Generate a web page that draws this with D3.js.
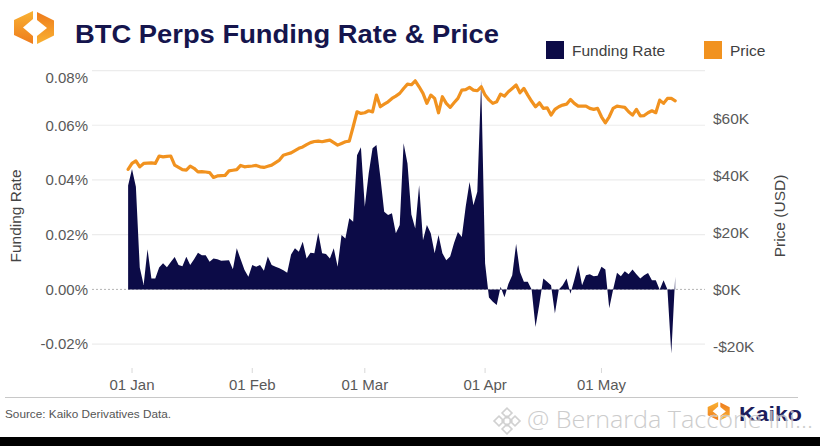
<!DOCTYPE html>
<html><head><meta charset="utf-8">
<script src="https://cdn.jsdelivr.net/npm/d3@7/dist/d3.min.js"></script>
<style>
html,body{margin:0;padding:0;background:#fff;}
svg{display:block;font-family:"Liberation Sans",Arial,Helvetica,sans-serif;}
</style></head>
<body>
<svg id="chart" width="820" height="446"></svg>
<script>
// ---------------- DATA ----------------
const startDate = "2023-12-31";           // first daily observation
const fundingRate = [ // % per 8h, daily from 31 Dec 2023
0.038,0.044,0.0375,0.008,0.0016,0.0147,0.004,0.004,0.0080,0.0096,
0.0081,0.0100,0.0118,0.0089,0.0085,0.0119,0.0089,0.0110,0.0134,0.0125,
0.0125,0.0101,0.0113,0.0110,0.0105,0.0106,0.0107,0.0074,0.0150,0.0110,
0.0071,0.0046,0.0089,0.0083,0.0089,0.0068,0.0120,0.0089,0.0083,0.0077,
0.0070,0.0061,0.0128,0.0150,0.0138,0.0174,0.0113,0.0134,0.0132,0.0207,
0.0132,0.0129,0.0113,0.0150,0.0083,0.0199,0.0186,0.0260,0.0247,0.0490,
0.0520,0.0302,0.0424,0.0516,0.0528,0.0412,0.0284,0.0272,0.0278,0.0205,
0.0235,0.0534,0.0460,0.0274,0.0223,0.0381,0.0180,0.0235,0.0205,0.0132,
0.0199,0.0132,0.0107,0.0120,0.0170,0.0210,0.0192,0.0302,0.0393,0.0308,
0.0357,0.0762,0.0096,-0.0030,-0.0045,-0.0057,0.0010,-0.0029,0.0020,0.0052,
0.0166,0.0064,0.0028,0.0028,0.0000,-0.0137,-0.0052,0.0040,0.0028,0.0015,
-0.0088,0.0000,0.0015,0.0040,-0.0016,0.0034,0.0089,0.0015,0.0052,0.0055,
0.0048,0.0050,0.0083,0.0073,-0.0069,0.0000,0.0061,0.0048,0.0066,0.0055,
0.0073,0.0055,0.0040,0.0052,0.0060,0.0033,0.0033,-0.0001,0.0033,0.0000,
-0.0234,0.0046
];
const price = [ // USD, daily from 31 Dec 2023
42100,44200,45100,43000,44200,44300,44400,44200,46800,46500,
46700,46800,43600,42800,42000,41860,43260,42500,41260,41300,
41200,41000,39300,39800,39900,40000,41600,41800,42000,43500,
43000,43200,43300,43500,43000,42800,43200,43600,44500,45370,
47100,47500,47900,48700,49500,50000,50800,51500,51900,52000,
51800,52100,52390,51500,50630,51200,51800,52040,57060,62330,
61740,62000,62680,62300,68180,64080,65000,65830,67000,67830,
68780,70500,72040,71800,73200,71100,68780,65270,68180,67020,
61970,67600,65270,63860,65500,67020,69940,70100,70880,69940,
69700,71100,68180,66500,65270,65830,68530,67830,69350,70500,
71700,69000,70530,68180,66000,64080,65480,63510,63700,61160,
63160,64080,64670,65000,66670,65270,64320,64300,64320,63510,
63160,63510,60570,58460,60570,63510,64320,64100,63860,62330,
61160,63160,60870,61000,62000,62680,62000,66420,65270,67020,
67000,66180
];
const rateTicks = [-0.02,0,0.02,0.04,0.06,0.08];
const priceTicks = [-20000,0,20000,40000,60000];
const monthTicks = ["2024-01-01","2024-02-01","2024-03-01","2024-04-01","2024-05-01"];
const seriesNames = ["Funding Rate","Price"];

// ---------------- LAYOUT ----------------
const navy = "#0c0b47", orange = "#f1921f";
const svg = d3.select("#chart");
const plotL = 92, plotR = 705, plotT = 70, plotB = 366;

const jan1 = d3.utcParse("%Y-%m-%d")("2024-01-01");
const x = d3.scaleUtc()
  .domain([new Date(+jan1 - (132-plotL)/3.88*864e5), new Date(+jan1 + (plotR-132)/3.88*864e5)])
  .range([plotL, plotR]);
const yL = d3.scaleLinear().domain([-0.028, 0.0802]).range([plotB, plotT]);
const yR = d3.scaleLinear().domain([-(plotB-289.4)/57*20000, (289.4-plotT)/57*20000]).range([plotB, plotT]);

const t0 = d3.utcParse("%Y-%m-%d")(startDate);
const rows = fundingRate.map((v,i)=>({date:d3.utcDay.offset(t0,i), rate:v, price:price[i]}));

const fmt = d3.formatLocale({decimal:".",thousands:",",grouping:[3],currency:["$",""],minus:"-"});

// gridlines
svg.append("g").selectAll("line").data(rateTicks.filter(v=>v!==0)).join("line")
  .attr("x1",plotL).attr("x2",plotR)
  .attr("y1",d=>yL(d)).attr("y2",d=>yL(d))
  .attr("stroke","#ececec").attr("stroke-width",1.2);

// zero line dashed
svg.append("line").attr("x1",plotL).attr("x2",plotR)
  .attr("y1",yL(0)).attr("y2",yL(0))
  .attr("stroke","#b5b5b5").attr("stroke-width",1).attr("stroke-dasharray","2,2");

// funding area
const area = d3.area().x(d=>x(d.date)).y0(yL(0)).y1(d=>yL(d.rate)).curve(d3.curveLinear);
svg.append("path").datum(rows).attr("d",area).attr("fill",navy);

// price line
const line = d3.line().x(d=>x(d.date)).y(d=>yR(d.price)).curve(d3.curveLinear);
svg.append("path").datum(rows).attr("d",line).attr("fill","none")
  .attr("stroke",orange).attr("stroke-width",3.2).attr("stroke-linejoin","round").attr("stroke-linecap","round");

// left axis labels
svg.append("g").selectAll("text").data(rateTicks).join("text")
  .attr("x",88).attr("y",d=>Math.max(yL(d),78)).attr("dy","0.35em")
  .attr("text-anchor","end").attr("font-size",15).attr("fill","#595959")
  .text(d=>fmt.format(".2f")(d)+"%");

// right axis labels
svg.append("g").selectAll("text").data(priceTicks).join("text")
  .attr("x",713).attr("y",d=>yR(d)).attr("dy","0.35em")
  .attr("text-anchor","start").attr("font-size",15.5).attr("fill","#595959")
  .text(d=>(d<0?"-":"")+"$"+Math.abs(d/1000)+"K");

// x axis ticks and labels
const mdates = monthTicks.map(d3.utcParse("%Y-%m-%d"));
svg.append("g").selectAll("line").data(mdates).join("line")
  .attr("x1",d=>x(d)).attr("x2",d=>x(d)).attr("y1",368).attr("y2",373)
  .attr("stroke","#d8d8d8").attr("stroke-width",1);
svg.append("g").selectAll("text").data(mdates).join("text")
  .attr("x",d=>x(d)).attr("y",390).attr("text-anchor","middle")
  .attr("font-size",15).attr("fill","#595959")
  .text(d3.utcFormat("%d %b"));

// axis titles
svg.append("text").attr("transform","translate(21,216) rotate(-90)")
  .attr("text-anchor","middle").attr("font-size",15.5).attr("fill","#444").text("Funding Rate");
svg.append("text").attr("transform","translate(785,216) rotate(-90)")
  .attr("text-anchor","middle").attr("font-size",15.5).attr("fill","#444").text("Price (USD)");

// title
svg.append("text").attr("x",75).attr("y",43).attr("font-size",25).attr("font-weight","bold")
  .attr("fill","#15154d").attr("textLength",424).attr("lengthAdjust","spacingAndGlyphs")
  .text("BTC Perps Funding Rate & Price");

// logo (top-left)
const defs = svg.append("defs");
function grad(id, c1, c2){
  const g = defs.append("linearGradient").attr("id",id).attr("x1",0).attr("y1",0).attr("x2",0).attr("y2",1);
  g.append("stop").attr("offset","0%").attr("stop-color",c1);
  g.append("stop").attr("offset","100%").attr("stop-color",c2);
}
grad("gL","#f9b233","#ee7b1c");
grad("gR","#ee7b1c","#f9b233");
function logo(g){
  g.append("polygon").attr("points",[[33,11],[33,19],[23,27.5],[33,36],[33,44],[14,35],[14,20]].map(p=>p.join(",")).join(" "))
    .attr("fill","url(#gL)");
  g.append("polygon").attr("points",[[37,12],[37,20],[47,28],[37,36],[37,44],[54,35.5],[54,20.5]].map(p=>p.join(",")).join(" "))
    .attr("fill","url(#gR)");
}
logo(svg.append("g"));

// legend
const legend = svg.append("g");
const lg = [{name:seriesNames[0],c:navy,x:546},{name:seriesNames[1],c:orange,x:704}];
lg.forEach(l=>{
  legend.append("rect").attr("x",l.x).attr("y",41).attr("width",18).attr("height",18).attr("fill",l.c);
  legend.append("text").attr("x",l.x+26).attr("y",56).attr("font-size",15.5).attr("fill","#404040").text(l.name);
});

// footer
svg.append("line").attr("x1",5).attr("x2",798).attr("y1",397.5).attr("y2",397.5)
  .attr("stroke","#c8c8c8").attr("stroke-width",1.2);
svg.append("text").attr("x",5).attr("y",418).attr("font-size",11.5).attr("fill","#555")
  .attr("textLength",166).attr("lengthAdjust","spacingAndGlyphs")
  .text("Source: Kaiko Derivatives Data.");

// Kaiko logo bottom-right
const kl = svg.append("g").attr("transform","translate(700,396) scale(0.55)");
logo(kl);
svg.append("text").attr("x",739).attr("y",421).attr("font-size",21).attr("font-weight","bold")
  .attr("fill","#1d1d5c").attr("textLength",63).attr("lengthAdjust","spacingAndGlyphs").text("Kaiko");

// watermark
const wm = svg.append("g").attr("opacity",0.85);
const bx = 507, by = 421;
[[0,-8],[-8,0],[8,0],[0,8],[0,0]].forEach(p=>{
  wm.append("rect").attr("x",bx+p[0]-3.5).attr("y",by+p[1]-3.5).attr("width",7).attr("height",7)
    .attr("transform",`rotate(45 ${bx+p[0]} ${by+p[1]})`)
    .attr("fill","none").attr("stroke","#c9c9c9").attr("stroke-width",1.6);
});
wm.append("text").attr("x",527).attr("y",428).attr("font-size",23)
  .attr("font-family","'Open Sans','DejaVu Sans',sans-serif").attr("font-weight",300)
  .attr("fill","#c4c4c4").attr("stroke","#ffffff").attr("stroke-width",0.6).attr("paint-order","stroke")
  .attr("textLength",286).attr("lengthAdjust","spacingAndGlyphs")
  .text("@ Bernarda Taccone Ini...");

// black band at bottom
svg.append("rect").attr("x",0).attr("y",437).attr("width",820).attr("height",9).attr("fill","#000");
</script>
</body></html>
